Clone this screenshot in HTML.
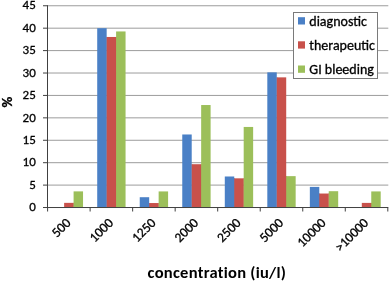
<!DOCTYPE html>
<html><head><meta charset="utf-8"><style>html,body{margin:0;padding:0;background:#fff;width:390px;height:282px;overflow:hidden}</style></head>
<body>
<svg width="390" height="282" viewBox="0 0 390 282" style="display:block">
<rect width="390" height="282" fill="#fff"/>
<line x1="47.6" y1="185.10" x2="388.3" y2="185.10" stroke="#9C9C9C" stroke-width="1"/>
<line x1="47.6" y1="162.69" x2="388.3" y2="162.69" stroke="#9C9C9C" stroke-width="1"/>
<line x1="47.6" y1="140.27" x2="388.3" y2="140.27" stroke="#9C9C9C" stroke-width="1"/>
<line x1="47.6" y1="117.85" x2="388.3" y2="117.85" stroke="#9C9C9C" stroke-width="1"/>
<line x1="47.6" y1="95.43" x2="388.3" y2="95.43" stroke="#9C9C9C" stroke-width="1"/>
<line x1="47.6" y1="73.02" x2="388.3" y2="73.02" stroke="#9C9C9C" stroke-width="1"/>
<line x1="47.6" y1="50.60" x2="388.3" y2="50.60" stroke="#9C9C9C" stroke-width="1"/>
<line x1="47.6" y1="28.18" x2="388.3" y2="28.18" stroke="#9C9C9C" stroke-width="1"/>
<line x1="47.6" y1="5.76" x2="388.3" y2="5.76" stroke="#9C9C9C" stroke-width="1"/>
<rect x="64.14" y="202.86" width="9.45" height="4.66" fill="#C8514B"/>
<rect x="73.29" y="202.86" width="1" height="4.66" fill="#C8514B"/>
<rect x="73.59" y="191.38" width="9.45" height="16.14" fill="#9CBF5A"/>
<rect x="97.21" y="28.18" width="9.45" height="179.34" fill="#4A80C6"/>
<rect x="106.36" y="36.97" width="1" height="170.55" fill="#4A80C6"/>
<rect x="106.66" y="36.97" width="9.45" height="170.55" fill="#C8514B"/>
<rect x="115.81" y="36.97" width="1" height="170.55" fill="#C8514B"/>
<rect x="116.11" y="31.45" width="9.45" height="176.07" fill="#9CBF5A"/>
<rect x="139.74" y="197.21" width="9.45" height="10.31" fill="#4A80C6"/>
<rect x="148.89" y="203.04" width="1" height="4.48" fill="#4A80C6"/>
<rect x="149.19" y="203.04" width="9.45" height="4.48" fill="#C8514B"/>
<rect x="158.34" y="203.04" width="1" height="4.48" fill="#C8514B"/>
<rect x="158.64" y="191.42" width="9.45" height="16.10" fill="#9CBF5A"/>
<rect x="182.26" y="134.48" width="9.45" height="73.04" fill="#4A80C6"/>
<rect x="191.41" y="164.21" width="1" height="43.31" fill="#4A80C6"/>
<rect x="191.71" y="164.21" width="9.45" height="43.31" fill="#C8514B"/>
<rect x="200.86" y="164.21" width="1" height="43.31" fill="#C8514B"/>
<rect x="201.16" y="105.03" width="9.45" height="102.49" fill="#9CBF5A"/>
<rect x="224.79" y="176.49" width="9.45" height="31.03" fill="#4A80C6"/>
<rect x="233.94" y="178.33" width="1" height="29.19" fill="#4A80C6"/>
<rect x="234.24" y="178.33" width="9.45" height="29.19" fill="#C8514B"/>
<rect x="243.39" y="178.33" width="1" height="29.19" fill="#C8514B"/>
<rect x="243.69" y="126.95" width="9.45" height="80.57" fill="#9CBF5A"/>
<rect x="267.31" y="72.34" width="9.45" height="135.18" fill="#4A80C6"/>
<rect x="276.46" y="77.36" width="1" height="130.16" fill="#4A80C6"/>
<rect x="276.76" y="77.36" width="9.45" height="130.16" fill="#C8514B"/>
<rect x="285.91" y="176.14" width="1" height="31.38" fill="#C8514B"/>
<rect x="286.21" y="176.14" width="9.45" height="31.38" fill="#9CBF5A"/>
<rect x="309.84" y="186.90" width="9.45" height="20.62" fill="#4A80C6"/>
<rect x="318.99" y="193.53" width="1" height="13.99" fill="#4A80C6"/>
<rect x="319.29" y="193.53" width="9.45" height="13.99" fill="#C8514B"/>
<rect x="328.44" y="193.53" width="1" height="13.99" fill="#C8514B"/>
<rect x="328.74" y="191.20" width="9.45" height="16.32" fill="#9CBF5A"/>
<rect x="361.81" y="202.90" width="9.45" height="4.62" fill="#C8514B"/>
<rect x="370.96" y="202.90" width="1" height="4.62" fill="#C8514B"/>
<rect x="371.26" y="191.42" width="9.45" height="16.10" fill="#9CBF5A"/>
<line x1="47.5" y1="5.2" x2="47.5" y2="208.02" stroke="#404040" stroke-width="1"/>
<line x1="47.6" y1="207.52" x2="388.3" y2="207.52" stroke="#404040" stroke-width="1"/>
<line x1="43" y1="207.52" x2="47.5" y2="207.52" stroke="#404040" stroke-width="1"/>
<text textLength="6.59" lengthAdjust="spacingAndGlyphs" x="35.8" y="206.92" dy="0.33em" text-anchor="end" font-size="13" font-family="Carlito, &quot;Liberation Sans&quot;, sans-serif" fill="#000" stroke="#000" stroke-width="0.3">0</text>
<line x1="43" y1="185.10" x2="47.5" y2="185.10" stroke="#404040" stroke-width="1"/>
<text textLength="6.59" lengthAdjust="spacingAndGlyphs" x="35.8" y="184.50" dy="0.33em" text-anchor="end" font-size="13" font-family="Carlito, &quot;Liberation Sans&quot;, sans-serif" fill="#000" stroke="#000" stroke-width="0.3">5</text>
<line x1="43" y1="162.69" x2="47.5" y2="162.69" stroke="#404040" stroke-width="1"/>
<text textLength="13.19" lengthAdjust="spacingAndGlyphs" x="35.8" y="162.09" dy="0.33em" text-anchor="end" font-size="13" font-family="Carlito, &quot;Liberation Sans&quot;, sans-serif" fill="#000" stroke="#000" stroke-width="0.3">10</text>
<line x1="43" y1="140.27" x2="47.5" y2="140.27" stroke="#404040" stroke-width="1"/>
<text textLength="13.19" lengthAdjust="spacingAndGlyphs" x="35.8" y="139.67" dy="0.33em" text-anchor="end" font-size="13" font-family="Carlito, &quot;Liberation Sans&quot;, sans-serif" fill="#000" stroke="#000" stroke-width="0.3">15</text>
<line x1="43" y1="117.85" x2="47.5" y2="117.85" stroke="#404040" stroke-width="1"/>
<text textLength="13.19" lengthAdjust="spacingAndGlyphs" x="35.8" y="117.25" dy="0.33em" text-anchor="end" font-size="13" font-family="Carlito, &quot;Liberation Sans&quot;, sans-serif" fill="#000" stroke="#000" stroke-width="0.3">20</text>
<line x1="43" y1="95.43" x2="47.5" y2="95.43" stroke="#404040" stroke-width="1"/>
<text textLength="13.19" lengthAdjust="spacingAndGlyphs" x="35.8" y="94.83" dy="0.33em" text-anchor="end" font-size="13" font-family="Carlito, &quot;Liberation Sans&quot;, sans-serif" fill="#000" stroke="#000" stroke-width="0.3">25</text>
<line x1="43" y1="73.02" x2="47.5" y2="73.02" stroke="#404040" stroke-width="1"/>
<text textLength="13.19" lengthAdjust="spacingAndGlyphs" x="35.8" y="72.42" dy="0.33em" text-anchor="end" font-size="13" font-family="Carlito, &quot;Liberation Sans&quot;, sans-serif" fill="#000" stroke="#000" stroke-width="0.3">30</text>
<line x1="43" y1="50.60" x2="47.5" y2="50.60" stroke="#404040" stroke-width="1"/>
<text textLength="13.19" lengthAdjust="spacingAndGlyphs" x="35.8" y="50.00" dy="0.33em" text-anchor="end" font-size="13" font-family="Carlito, &quot;Liberation Sans&quot;, sans-serif" fill="#000" stroke="#000" stroke-width="0.3">35</text>
<line x1="43" y1="28.18" x2="47.5" y2="28.18" stroke="#404040" stroke-width="1"/>
<text textLength="13.19" lengthAdjust="spacingAndGlyphs" x="35.8" y="27.58" dy="0.33em" text-anchor="end" font-size="13" font-family="Carlito, &quot;Liberation Sans&quot;, sans-serif" fill="#000" stroke="#000" stroke-width="0.3">40</text>
<line x1="43" y1="5.76" x2="47.5" y2="5.76" stroke="#404040" stroke-width="1"/>
<text textLength="13.19" lengthAdjust="spacingAndGlyphs" x="35.8" y="5.16" dy="0.33em" text-anchor="end" font-size="13" font-family="Carlito, &quot;Liberation Sans&quot;, sans-serif" fill="#000" stroke="#000" stroke-width="0.3">45</text>
<line x1="47.60" y1="207.52" x2="47.60" y2="211.5" stroke="#404040" stroke-width="1"/>
<line x1="90.12" y1="207.52" x2="90.12" y2="211.5" stroke="#404040" stroke-width="1"/>
<line x1="132.65" y1="207.52" x2="132.65" y2="211.5" stroke="#404040" stroke-width="1"/>
<line x1="175.17" y1="207.52" x2="175.17" y2="211.5" stroke="#404040" stroke-width="1"/>
<line x1="217.70" y1="207.52" x2="217.70" y2="211.5" stroke="#404040" stroke-width="1"/>
<line x1="260.23" y1="207.52" x2="260.23" y2="211.5" stroke="#404040" stroke-width="1"/>
<line x1="302.75" y1="207.52" x2="302.75" y2="211.5" stroke="#404040" stroke-width="1"/>
<line x1="345.28" y1="207.52" x2="345.28" y2="211.5" stroke="#404040" stroke-width="1"/>
<line x1="387.80" y1="207.52" x2="387.80" y2="211.5" stroke="#404040" stroke-width="1"/>
<text textLength="20.53" lengthAdjust="spacingAndGlyphs" transform="translate(68.16,220.20) rotate(-45)" text-anchor="end" dy="0.35em" font-size="13.5" font-family="Carlito, &quot;Liberation Sans&quot;, sans-serif" fill="#000" stroke="#000" stroke-width="0.3">500</text>
<text textLength="27.38" lengthAdjust="spacingAndGlyphs" transform="translate(110.69,220.20) rotate(-45)" text-anchor="end" dy="0.35em" font-size="13.5" font-family="Carlito, &quot;Liberation Sans&quot;, sans-serif" fill="#000" stroke="#000" stroke-width="0.3">1000</text>
<text textLength="27.38" lengthAdjust="spacingAndGlyphs" transform="translate(153.21,220.20) rotate(-45)" text-anchor="end" dy="0.35em" font-size="13.5" font-family="Carlito, &quot;Liberation Sans&quot;, sans-serif" fill="#000" stroke="#000" stroke-width="0.3">1250</text>
<text textLength="27.38" lengthAdjust="spacingAndGlyphs" transform="translate(195.74,220.20) rotate(-45)" text-anchor="end" dy="0.35em" font-size="13.5" font-family="Carlito, &quot;Liberation Sans&quot;, sans-serif" fill="#000" stroke="#000" stroke-width="0.3">2000</text>
<text textLength="27.38" lengthAdjust="spacingAndGlyphs" transform="translate(238.26,220.20) rotate(-45)" text-anchor="end" dy="0.35em" font-size="13.5" font-family="Carlito, &quot;Liberation Sans&quot;, sans-serif" fill="#000" stroke="#000" stroke-width="0.3">2500</text>
<text textLength="27.38" lengthAdjust="spacingAndGlyphs" transform="translate(280.79,220.20) rotate(-45)" text-anchor="end" dy="0.35em" font-size="13.5" font-family="Carlito, &quot;Liberation Sans&quot;, sans-serif" fill="#000" stroke="#000" stroke-width="0.3">5000</text>
<text textLength="34.22" lengthAdjust="spacingAndGlyphs" transform="translate(323.31,220.20) rotate(-45)" text-anchor="end" dy="0.35em" font-size="13.5" font-family="Carlito, &quot;Liberation Sans&quot;, sans-serif" fill="#000" stroke="#000" stroke-width="0.3">10000</text>
<text textLength="40.94" lengthAdjust="spacingAndGlyphs" transform="translate(365.84,220.20) rotate(-45)" text-anchor="end" dy="0.35em" font-size="13.5" font-family="Carlito, &quot;Liberation Sans&quot;, sans-serif" fill="#000" stroke="#000" stroke-width="0.3">&gt;10000</text>
<text textLength="138.64" lengthAdjust="spacingAndGlyphs" x="216.9" y="277.6" text-anchor="middle" font-size="16.5" letter-spacing="0.27" font-weight="bold" font-family="Carlito, &quot;Liberation Sans&quot;, sans-serif" fill="#000">concentration (iu/l)</text>
<text textLength="10.80" lengthAdjust="spacingAndGlyphs" transform="translate(12.2,102.2) rotate(-90)" text-anchor="middle" font-size="14.8" font-weight="bold" font-family="Carlito, &quot;Liberation Sans&quot;, sans-serif" fill="#000" stroke="#000" stroke-width="0.3">%</text>
<rect x="293.5" y="12.5" width="84" height="66" fill="#fff" stroke="#7A7A7A" stroke-width="1"/>
<rect x="298" y="17.2" width="7" height="7.3" fill="#4A80C6"/>
<text textLength="57.64" lengthAdjust="spacingAndGlyphs" x="309.3" y="25.8" font-size="14" font-family="Carlito, &quot;Liberation Sans&quot;, sans-serif" fill="#000" stroke="#000" stroke-width="0.3">diagnostic</text>
<rect x="298" y="41.3" width="7" height="7.3" fill="#C8514B"/>
<text textLength="65.72" lengthAdjust="spacingAndGlyphs" x="309.3" y="49.8" font-size="14" font-family="Carlito, &quot;Liberation Sans&quot;, sans-serif" fill="#000" stroke="#000" stroke-width="0.3">therapeutic</text>
<rect x="298" y="65.5" width="7" height="7.3" fill="#9CBF5A"/>
<text textLength="64.55" lengthAdjust="spacingAndGlyphs" x="309.3" y="73.8" font-size="14" font-family="Carlito, &quot;Liberation Sans&quot;, sans-serif" fill="#000" stroke="#000" stroke-width="0.3">GI bleeding</text>
</svg>
</body></html>
